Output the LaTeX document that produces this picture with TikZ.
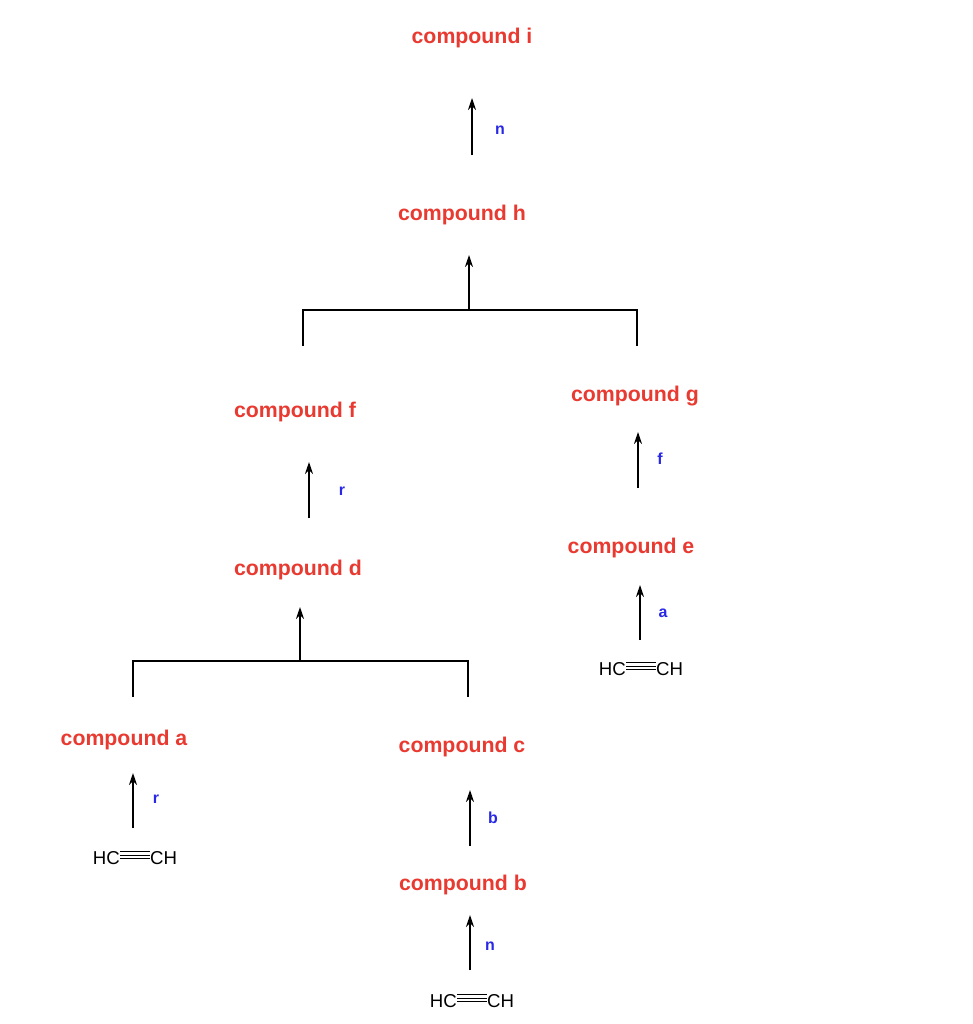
\documentclass[tikz,border=0pt]{standalone}
\usepackage{fontspec}
\setmainfont{Liberation Sans}
\usetikzlibrary{arrows.meta}
\definecolor{cred}{RGB}{232,58,48}
\definecolor{cblue}{RGB}{40,40,230}
\newcommand\tribond{\tikz[baseline=-0.5ex,x=1pt,y=1pt]{\foreach \d in {-2.6,0,2.6}{\draw[line width=0.7pt] (0,{\d+3.3}) -- (22,{\d+3.3});}}}
\tikzset{cmp/.style={text=cred,font=\fontsize{16}{18}\selectfont\bfseries,inner sep=0pt},
lab/.style={text=cblue,font=\fontsize{12}{14}\selectfont\bfseries,inner sep=0pt},
chem/.style={font=\fontsize{14}{16}\selectfont,inner sep=0pt},
rx/.style={-{Stealth[length=9pt,width=6pt]},line width=1pt},
br/.style={line width=0.9pt}}
\begin{document}
\begin{tikzpicture}[x=0.0264cm,y=-0.0264cm]
\useasboundingbox (0,0) rectangle (973,1024);
\node[cmp] (ci) at (472,38) {compound i};
\node[cmp] (ch) at (462,215) {compound h};
\node[cmp] (cf) at (295,412) {compound f};
\node[cmp] (cg) at (635,396) {compound g};
\node[cmp] (cd) at (298,570) {compound d};
\node[cmp] (ce) at (631,548) {compound e};
\node[cmp] (ca) at (124,740) {compound a};
\node[cmp] (cc) at (462,747) {compound c};
\node[cmp] (cb) at (463,885) {compound b};
\node[chem] (e1) at (641,669) {HC\tribond CH};
\node[chem] (e2) at (135,858) {HC\tribond CH};
\node[chem] (e3) at (472,1001) {HC\tribond CH};
% arrows
\coordinate (a1s) at (472,155); \coordinate (a1e) at (472,98);
\draw[rx] (a1s) -- (a1e); \node[lab] (l1) at (500,130) {n};
\coordinate (a2s) at (469,310); \coordinate (a2e) at (469,255);
\draw[rx] (a2s) -- (a2e);
\coordinate (b1l) at (303,346); \coordinate (b1r) at (637,346);
\draw[br] (b1l) -- (303,310) -- (637,310) -- (b1r);
\coordinate (a3s) at (309,518); \coordinate (a3e) at (309,462);
\draw[rx] (a3s) -- (a3e); \node[lab] (l3) at (342,491) {r};
\coordinate (a4s) at (638,488); \coordinate (a4e) at (638,432);
\draw[rx] (a4s) -- (a4e); \node[lab] (l4) at (660,459) {f};
\coordinate (a5s) at (300,661); \coordinate (a5e) at (300,607);
\draw[rx] (a5s) -- (a5e);
\coordinate (b2l) at (133,697); \coordinate (b2r) at (468,697);
\draw[br] (b2l) -- (133,661) -- (468,661) -- (b2r);
\coordinate (a6s) at (640,640); \coordinate (a6e) at (640,585);
\draw[rx] (a6s) -- (a6e); \node[lab] (l6) at (663,613) {a};
\coordinate (a7s) at (133,828); \coordinate (a7e) at (133,773);
\draw[rx] (a7s) -- (a7e); \node[lab] (l7) at (156,799) {r};
\coordinate (a8s) at (470,846); \coordinate (a8e) at (470,790);
\draw[rx] (a8s) -- (a8e); \node[lab] (l8) at (493,818) {b};
\coordinate (a9s) at (470,970); \coordinate (a9e) at (470,915);
\draw[rx] (a9s) -- (a9e); \node[lab] (l9) at (490,946) {n};
\end{tikzpicture}
\end{document}
